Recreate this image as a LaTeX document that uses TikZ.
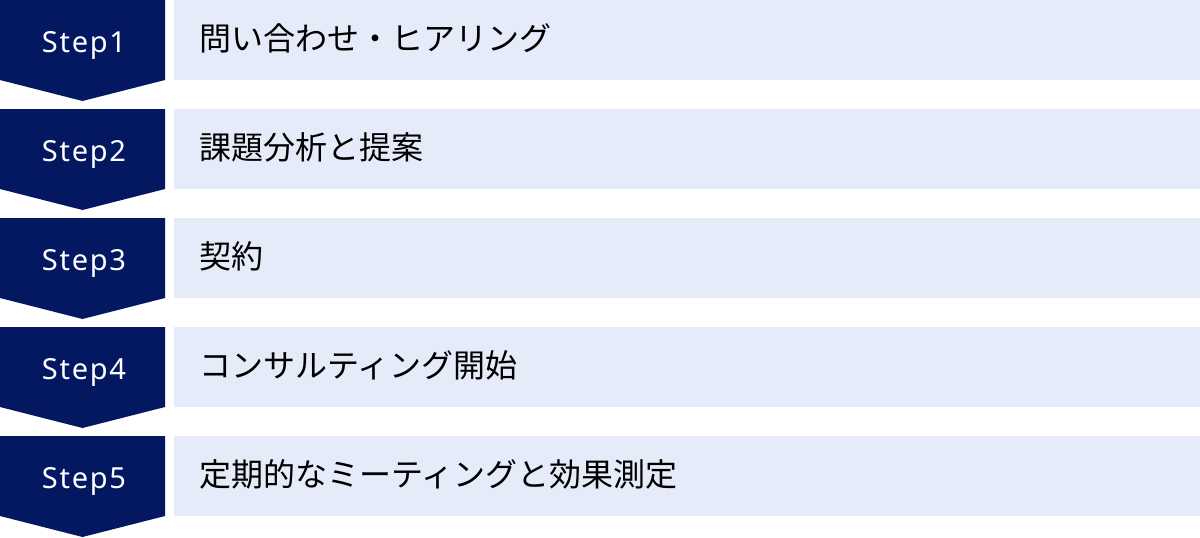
\documentclass[tikz,border=0pt]{standalone}
\usepackage{fontspec}
\setmainfont{Noto Sans CJK JP}
\newfontfamily\jpfont{Noto Sans CJK JP}
\newfontfamily\stepfont[LetterSpace=6]{Noto Sans}
\definecolor{navy}{HTML}{041862}
\definecolor{pale}{HTML}{E5EBF9}
\begin{document}
\begin{tikzpicture}[x=1pt,y=-1pt,
  steplabel/.style={text=white,font=\stepfont\fontsize{29}{29}\selectfont,inner sep=0pt,anchor=base},
  bandbox/.style={fill=pale,draw=none,inner sep=0pt,anchor=north west,minimum width=1026pt,minimum height=80pt},
  bandtext/.style={text=black,font=\jpfont\fontsize{32}{32}\selectfont,inner sep=0pt,anchor=base west}]
\useasboundingbox (0,0) rectangle (1200,538);
\foreach \i/\txt in {1/問い合わせ・ヒアリング,2/課題分析と提案,3/契約,4/コンサルティング開始,5/定期的なミーティングと効果測定}{
  \pgfmathsetmacro{\yo}{109*(\i-1)}
  \fill[navy] (0,\yo) -- (165,\yo) -- (165,\yo+80) -- (82.5,\yo+101) -- (0,\yo+80) -- cycle;
  \node[steplabel] (step\i) at (84,\yo+52.3) {Step\i};
  \node[bandbox] (band\i) at (174,\yo) {};
  \node[bandtext] (text\i) at (199,\yo+50) {\txt};
}
\end{tikzpicture}
\end{document}
